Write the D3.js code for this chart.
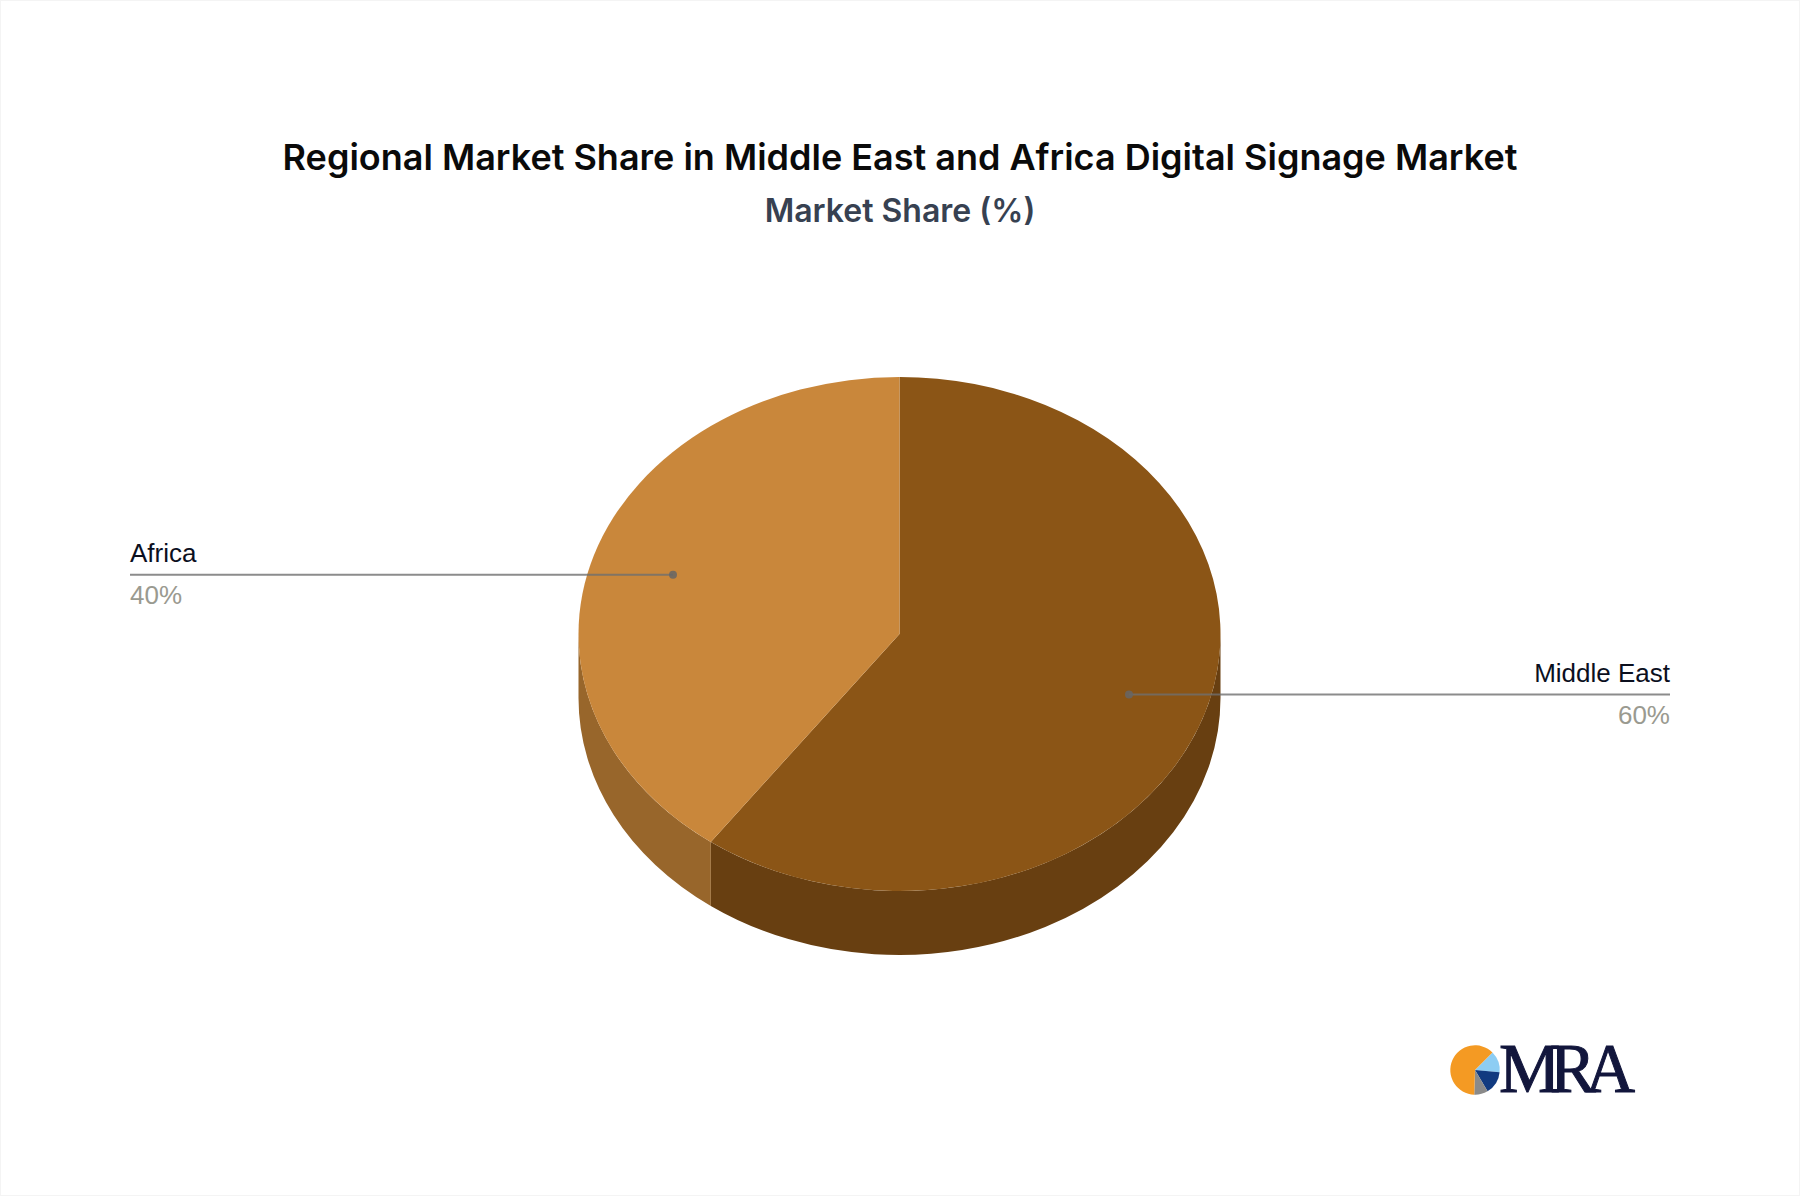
<!DOCTYPE html>
<html>
<head>
<meta charset="utf-8">
<script src="https://cdn.jsdelivr.net/npm/d3@7/dist/d3.min.js"></script>
<style>
html,body{margin:0;padding:0;background:#fff;}
svg{display:block;}
</style>
</head>
<body>
<svg id="chart" width="1800" height="1196"></svg>
<script>
const categories = ["Middle East", "Africa"];
const shares = [60, 40];
const shareLabels = ["60%", "40%"];
const topColors = ["#8b5516", "#c9873b"];
const wallColors = ["#683f11", "#98662b"];
const titleText = "Regional Market Share in Middle East and Africa Digital Signage Market";
const subtitleText = "Market Share (%)";
const logoValues = [62, 14, 15, 9];
const logoColors = ["#f49a23", "#8dcdf3", "#113a80", "#8a8a8a"];

const W = 1800, H = 1196;
const cx = 899.5, cy = 634, rx = 321, ry = 257, depth = 64;
const k = ry / rx;
const svg = d3.select("#chart");

svg.append("rect").attr("x",0.5).attr("y",0.5).attr("width",W-1).attr("height",H-1)
  .attr("fill","#fff").attr("stroke","#f4f4f4");

svg.append("text").attr("x",900).attr("y",170).attr("text-anchor","middle")
  .attr("font-family","Inter").attr("font-weight",600).attr("font-size",36).attr("fill","#0a0a0a").text(titleText);
svg.append("text").attr("x",900).attr("y",222).attr("text-anchor","middle")
  .attr("font-family","Inter").attr("font-weight",600).attr("font-size",32).attr("fill","#374151").text(subtitleText);

const pie = d3.pie().sort(null).startAngle(0).endAngle(2*Math.PI);
const arcs = pie(shares);
const arcGen = d3.arc().innerRadius(0).outerRadius(rx);
const g = svg.append("g").attr("transform",`translate(${cx},${cy}) scale(1,${k})`);

// visible lower half of the side wall, in pie angles
const wallFrom = Math.PI/2, wallTo = 3*Math.PI/2;
arcs.forEach((a,i)=>{
  const s = Math.max(a.startAngle, wallFrom), e = Math.min(a.endAngle, wallTo);
  if (e <= s) return;
  const p = d3.path(), d = depth/k;
  const s0 = s-Math.PI/2, e0 = e-Math.PI/2;
  p.arc(0,0,rx,s0,e0,false);
  p.arc(0,d,rx,e0,s0,true);
  p.closePath();
  g.append("path").attr("d",p.toString()).attr("fill",wallColors[i]);
});
g.selectAll("path.top").data(arcs).join("path").attr("class","top")
  .attr("d",arcGen).attr("fill",(d,i)=>topColors[i]);

// labels with leaders
const leaders = [
  {i:0, y:694.5, dot:1129, end:1670, anchor:"end"},
  {i:1, y:574.7, dot:673, end:130, anchor:"start"}
];
leaders.forEach(l=>{
  svg.append("line").attr("x1",l.dot).attr("x2",l.end).attr("y1",l.y).attr("y2",l.y)
    .attr("stroke","#6f6f6f").attr("stroke-opacity",0.8).attr("stroke-width",2);
  svg.append("circle").attr("cx",l.dot).attr("cy",l.y).attr("r",4).attr("fill","#666").attr("fill-opacity",0.85);
  svg.append("text").attr("x",l.end).attr("y",l.y-13).attr("text-anchor",l.anchor)
    .attr("font-family","Liberation Sans").attr("font-size",26).attr("fill","#0b0f1e").text(categories[l.i]);
  svg.append("text").attr("x",l.end).attr("y",l.y+29).attr("text-anchor",l.anchor)
    .attr("font-family","Liberation Sans").attr("font-size",26).attr("fill","#9a9a90").text(shareLabels[l.i]);
});

// logo
const lg = svg.append("g").attr("transform","translate(1475,1070)");
const logoPie = d3.pie().sort(null).startAngle(Math.PI*0.25).endAngle(Math.PI*2.25);
const logoOrder = logoPie([logoValues[1],logoValues[2],logoValues[3],logoValues[0]]);
const logoCols = [logoColors[1],logoColors[2],logoColors[3],logoColors[0]];
lg.selectAll("path").data(logoOrder).join("path")
  .attr("d",d3.arc().innerRadius(0).outerRadius(24.7))
  .attr("fill",(d,i)=>logoCols[i]);
svg.append("text").attr("x",1499).attr("y",1092).attr("font-family","Liberation Serif")
  .attr("font-size",69).attr("letter-spacing",-10.5).attr("fill","#12163c")
  .attr("stroke","#12163c").attr("stroke-width",1).text("MRA");
</script>
</body>
</html>
